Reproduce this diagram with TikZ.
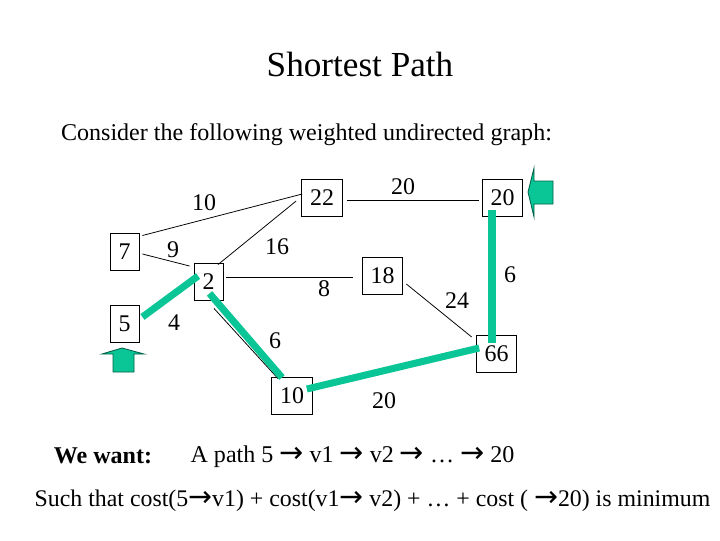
\documentclass[tikz,border=0pt]{standalone}
\usepackage{fontspec}
\setmainfont{Liberation Serif}
\newfontfamily\arrowfont[Scale=1.2]{DejaVu Sans}
\newcommand{\arr}{{\arrowfont\char"2192}}
\usetikzlibrary{calc}
\definecolor{pathgreen}{RGB}{10,198,150}
\definecolor{darkgreen}{RGB}{0,96,72}

\begin{document}
\begin{tikzpicture}[
  x=0.025cm, y=-0.025cm,
  vert/.style={draw, line width=0.6pt, minimum height=0.925cm, minimum width=0.725cm,
               inner sep=0pt, font=\fontsize{17}{20}\selectfont},
  vertw/.style={vert, minimum width=1.02cm},
  wgt/.style={font=\fontsize{17}{20}\selectfont, inner sep=0pt},
  txt/.style={font=\fontsize{17.1}{20}\selectfont, inner sep=0pt},
  link/.style={draw, line width=0.55pt},
  hot/.style={draw=pathgreen, line width=5pt},
  flag/.style={draw=darkgreen, line width=0.6pt, fill=pathgreen}
]
  \useasboundingbox (0,0) rectangle (720,540);

  \node[font=\fontsize{25}{30}\selectfont, inner sep=0pt] (title) at (360,64.5) {Shortest Path};
  \node[txt] (intro) at (306.5,135) {Consider the following weighted undirected graph:};

  % vertices
  \node[vert]  (n7)  at (124.5,251.5) {7};
  \node[vert]  (n5)  at (124.5,323.5) {5};
  \node[vert]  (n2)  at (208.5,281.5) {2};
  \node[vertw] (n22) at (322,197.5)   {22};
  \node[vertw] (n10) at (292,395.5)   {10};
  \node[vertw] (n20) at (502.5,197.5) {20};
  \node[vertw] (n18) at (382.5,275.5) {18};
  \node[vertw] (n66) at (496.5,353.5) {66};

  % weights
  \node[wgt] (w10)  at (204,203)   {10};
  \node[wgt] (w9)   at (173,250)   {9};
  \node[wgt] (w16)  at (277,247)   {16};
  \node[wgt] (w8)   at (324,289)   {8};
  \node[wgt] (w4)   at (174,323)   {4};
  \node[wgt] (w6)   at (275,341)   {6};
  \node[wgt] (w20)  at (403,187)   {20};
  \node[wgt] (w6b)  at (510,275)   {6};
  \node[wgt] (w24)  at (457,301)   {24};
  \node[wgt] (w20b) at (384,401)   {20};

  % plain edges
  \draw[link] ($(n7.east)+(3,-16)$)  -- ($(n22.west)+(1,-3.5)$);
  \draw[link] ($(n7.east)+(3,2.5)$)  -- ($(n2.west)+(-4,-15.5)$);
  \draw[link] ($(n2.north)+(9.5,2)$) -- ($(n22.west)+(-5,3.5)$);
  \draw[link] ($(n2.east)+(3,-4)$)   -- ($(n18.west)+(-9,2)$);
  \draw[link] ($(n22.east)+(4,3)$)   -- ($(n20.west)+(-3,3)$);
  \draw[link] ($(n18.east)+(3,8.5)$) -- ($(n66.west)+(-4,-16.5)$);
  \draw[link] ($(n2.south)+(5.5,8)$) -- ($(n10.north)+(-14,2)$);

  % shortest path
  \draw[hot] ($(n5.east)+(3,-6.5)$)   -- ($(n2.west)+(4.5,-5.5)$);
  \draw[hot] ($(n2.south)+(1,-7)$)    -- ($(n10.north)+(-10,1)$);
  \draw[hot] ($(n10.east)+(-6,-6.5)$) -- ($(n66.west)+(3.5,-5.5)$);
  \draw[hot] ($(n66.north)+(-4.5,8)$) -- ($(n20.south)+(-10.5,-6)$);

  % start and end markers
  \draw[flag] (122,348) -- (144,354) -- (134,354) -- (134,372) -- (113,372)
              -- (113,354) -- (102,354) -- cycle;
  \draw[flag] (528,192) -- (534,168) -- (534,181) -- (553,181) -- (553,204)
              -- (534,204) -- (534,217) -- cycle;

  \node[txt] (want) at (103,456) {\textbf{We want:}};
  \node[txt] (goal) at (352.5,457) {A path 5 \arr{} v1 \arr{} v2 \arr{} … \arr{} 20};
  \node[txt, font=\fontsize{16.95}{20}\selectfont] (cost) at (372.5,501)
       {Such that cost(5\arr{}v1) + cost(v1\arr{} v2) + … + cost ( \arr{}20) is minimum};
\end{tikzpicture}
\end{document}
